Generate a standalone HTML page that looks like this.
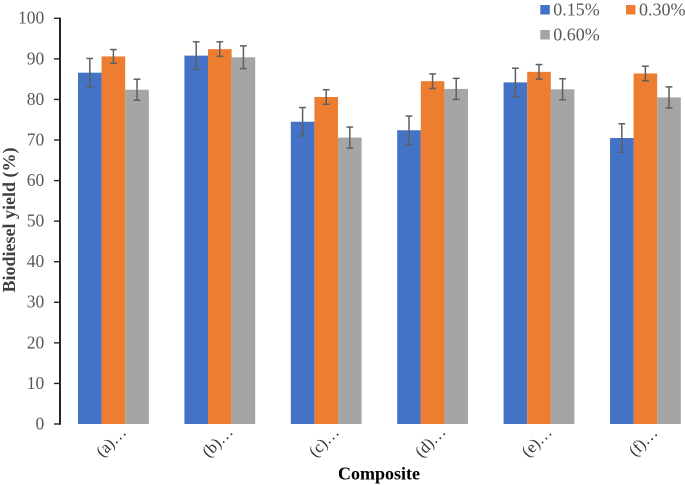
<!DOCTYPE html>
<html>
<head>
<meta charset="utf-8">
<title>Biodiesel yield by composite</title>
<style>
html,body{margin:0;padding:0;background:#fff;}
svg{display:block;}
text{font-family:"Liberation Serif",serif;}
</style>
</head>
<body>
<svg id="chart" width="685" height="485" viewBox="0 0 685 485" xmlns="http://www.w3.org/2000/svg"></svg>
<script>
var categories = ['(a)…', '(b)…', '(c)…', '(d)…', '(e)…', '(f)…'];
var seriesNames = ['0.15%', '0.30%', '0.60%'];
var seriesColors = ['#4472c4', '#ed7d31', '#a5a5a5'];
var values015 = [86.6, 90.8, 74.5, 72.4, 84.2, 70.5];
var values030 = [90.6, 92.4, 80.6, 84.5, 86.8, 86.4];
var values060 = [82.4, 90.4, 70.6, 82.6, 82.5, 80.5];
var errors015 = [3.5, 3.4, 3.5, 3.5, 3.5, 3.5];
var errors030 = [1.7, 1.8, 1.8, 1.8, 1.8, 1.8];
var errors060 = [2.6, 2.8, 2.6, 2.6, 2.6, 2.6];
var yTicks = [0, 10, 20, 30, 40, 50, 60, 70, 80, 90, 100];

var svg = document.getElementById('chart');
var NS = 'http://www.w3.org/2000/svg';
var allValues = [values015, values030, values060];
var allErrors = [errors015, errors030, errors060];

function yScale(v) { return 424 - v * 4.057; }
function groupLeft(i) { return 78 + i * 106.4; }
var barW = 23.6;

function make(tag, attrs, parent) {
  var el = document.createElementNS(NS, tag);
  for (var k in attrs) { el.setAttribute(k, attrs[k]); }
  (parent || svg).appendChild(el);
  return el;
}

// axis ticks and labels
yTicks.forEach(function (t) {
  var y = yScale(t);
  var tick = make('line', {x1: 54, x2: 60, y1: y, y2: y, stroke: '#262626', 'stroke-width': 1.4});
  
  
  var lab = make('text', {x: 44.3, y: y + 5.4, 'text-anchor': 'end', 'font-size': 17.5, fill: '#595959'});
  
  
  lab.textContent = t;
});

// bars
categories.forEach(function (c, i) {
  allValues.forEach(function (vals, s) {
    var x = groupLeft(i) + s * barW;
    var bar = make('rect', {x: x, y: yScale(vals[i]), width: barW, height: yScale(0) - yScale(vals[i]), fill: seriesColors[s]});
    
    
  });
});

// error bars
categories.forEach(function (c, i) {
  allValues.forEach(function (vals, s) {
    var cx = groupLeft(i) + s * barW + barW / 2;
    var top = yScale(vals[i] + allErrors[s][i]);
    var bot = yScale(vals[i] - allErrors[s][i]);
    var g = make('g', {stroke: '#5f5f5f', 'stroke-width': 1.5, fill: 'none'});
    
    
    make('line', {x1: cx, x2: cx, y1: top, y2: bot}, g);
    make('line', {x1: cx - 3.4, x2: cx + 3.4, y1: top, y2: top}, g);
    make('line', {x1: cx - 3.4, x2: cx + 3.4, y1: bot, y2: bot}, g);
  });
});

// y axis line
var axisLine = make('line', {x1: 60, x2: 60, y1: yScale(100) - 0.7, y2: yScale(0) + 0.7, stroke: '#262626', 'stroke-width': 2});



// category labels
categories.forEach(function (c, i) {
  var cx = groupLeft(i) + barW * 1.5 + 1.5;
  var cy = 445.5;
  var lab = make('text', {x: cx, y: cy, 'text-anchor': 'middle', 'font-size': 16.5, fill: '#333333', transform: 'rotate(-45 ' + cx + ' ' + cy + ')'});
  
  
  lab.textContent = c;
});

// axis titles
var xTitle = make('text', {x: 379, y: 479.5, 'text-anchor': 'middle', 'font-size': 18, 'font-weight': 'bold', fill: '#000'});


xTitle.textContent = 'Composite';

var yTitle = make('text', {x: 0, y: 0, 'text-anchor': 'middle', 'font-size': 18, 'font-weight': 'bold', fill: '#404040', transform: 'translate(15 220) rotate(-90)'});


yTitle.textContent = 'Biodiesel yield (%)';

// legend
var legendX = [540.3, 626];
var legendY = [5, 30];
seriesNames.forEach(function (n, s) {
  var lx = legendX[s % 2];
  var ly = legendY[s >> 1];
  var g = make('g', {});
  
  
  make('rect', {x: lx, y: ly, width: 9.5, height: 9.5, fill: seriesColors[s]}, g);
  var t = make('text', {x: lx + 13, y: ly + 10.5, 'font-size': 18, fill: '#595959'}, g);
  t.textContent = n;
});
</script>
</body>
</html>
